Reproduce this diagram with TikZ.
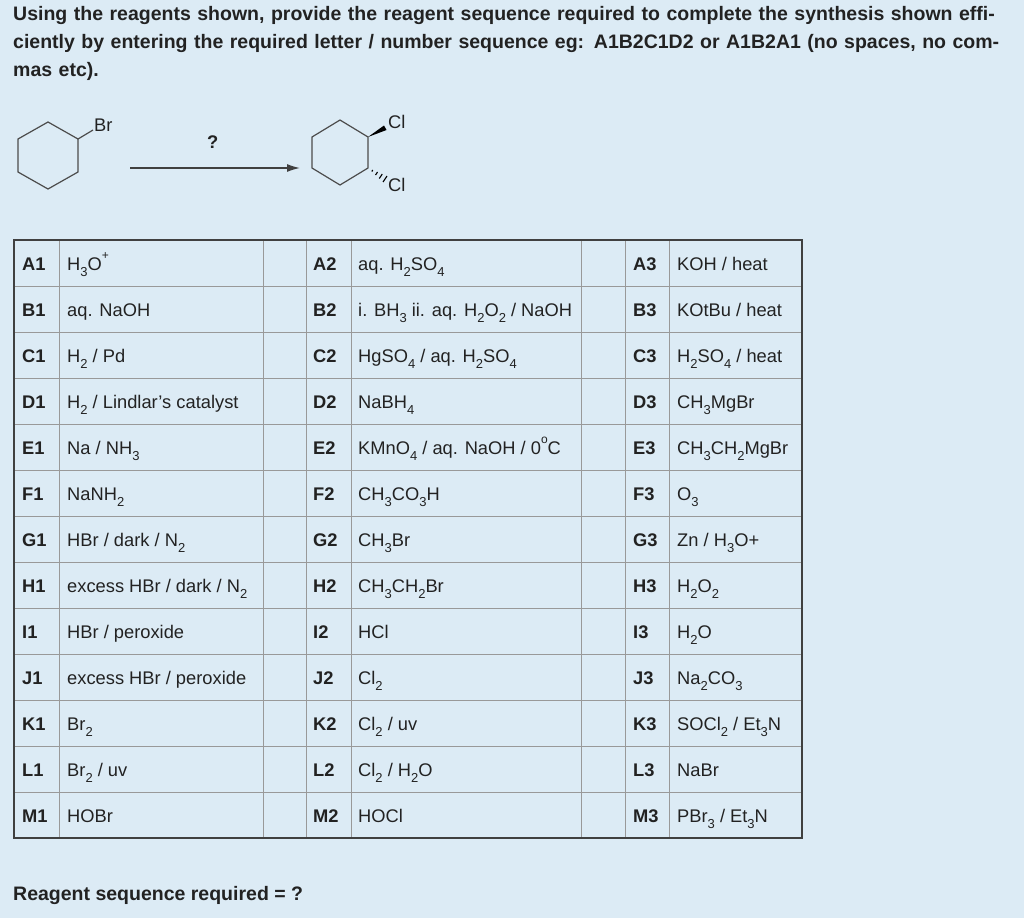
\documentclass[tikz,border=0pt]{standalone}
\usepackage{fontspec}
\setmainfont{Liberation Sans}
\usetikzlibrary{arrows.meta,calc}
\definecolor{bg}{HTML}{DCEBF5}
\definecolor{txt}{HTML}{222222}
\newcommand{\sbx}[1]{\raisebox{-0.38em}{\fontsize{13}{13}\selectfont #1}}
\newcommand{\spx}[1]{\raisebox{0.55em}{\fontsize{12}{12}\selectfont #1}}
\begin{document}
\begin{tikzpicture}[x=1pt,y=-1pt,
  cell/.style={anchor=base west,font=\fontsize{18.3}{20}\selectfont,text=txt,inner sep=0pt},
  lab/.style={anchor=base west,font=\fontsize{18.3}{20}\selectfont\bfseries,text=txt,inner sep=0pt},
  bond/.style={draw=black!70,line width=1.2pt},
  hdr/.style={anchor=west,font=\fontsize{19.5}{28}\selectfont\bfseries,text=txt,inner sep=0pt,align=left}]
\fill[bg] (0,0) rectangle (1024,918);
\useasboundingbox (0,0) rectangle (1024,918);
\node[hdr,anchor=north west,text width=995] (title) at (13,6) {Using the reagents shown, provide the reagent sequence required to complete the synthesis shown efficiently by entering the required letter / number sequence eg: A1B2C1D2 or A1B2A1 (no spaces, no commas etc).};
% molecules
\draw[bond] (48,122)--(78,139)--(78,172)--(48,189)--(18,172)--(18,139)--cycle;
\draw[bond] (78,139)--(93,130);
\node[cell] (br) at (94,131) {Br};
\node[lab] (q) at (207,148) {?};
\coordinate (a1) at (130,168); \coordinate (a2) at (300,168);
\draw[black!75,line width=1.3pt,-{Latex[length=13pt,width=8pt]}] (a1)--(a2);
\draw[bond] (340,120)--(368,137)--(368,168)--(340,185)--(312,168)--(312,137)--cycle;
\fill[black] (368,137)--(384,125.5)--(386.5,130)--cycle;
\node[cell] (cl1) at (388,128) {Cl};
\foreach \t in {0.25,0.5,0.75,1.0}
  \draw[black,line width=1.1pt] ($(368,168)!\t!(385,179)+(-2*\t,3*\t)$)--($(368,168)!\t!(385,179)+(2*\t,-3*\t)$);
\node[cell] (cl2) at (388,191) {Cl};
% table
\foreach \i in {1,...,12} \draw[gray!80,line width=1pt] (14,240+46*\i)--(802,240+46*\i);
\foreach \x in {59,263,306,351,581,625,669} \draw[gray!80,line width=1pt] (\x,240)--(\x,838);
\draw[black!75,line width=2pt] (14,240) rectangle (802,838);
\def\rows{%
{A}/{H\sbx{3}O\spx{+}}/{aq. H\sbx{2}SO\sbx{4}}/{KOH / heat},
{B}/{aq. NaOH}/{i. BH\sbx{3} ii. aq. H\sbx{2}O\sbx{2} / NaOH}/{KOtBu / heat},
{C}/{H\sbx{2} / Pd}/{HgSO\sbx{4} / aq. H\sbx{2}SO\sbx{4}}/{H\sbx{2}SO\sbx{4} / heat},
{D}/{H\sbx{2} / Lindlar's catalyst}/{NaBH\sbx{4}}/{CH\sbx{3}MgBr},
{E}/{Na / NH\sbx{3}}/{KMnO\sbx{4} / aq. NaOH / 0\spx{o}C}/{CH\sbx{3}CH\sbx{2}MgBr},
{F}/{NaNH\sbx{2}}/{CH\sbx{3}CO\sbx{3}H}/{O\sbx{3}},
{G}/{HBr / dark / N\sbx{2}}/{CH\sbx{3}Br}/{Zn / H\sbx{3}O+},
{H}/{excess HBr / dark / N\sbx{2}}/{CH\sbx{3}CH\sbx{2}Br}/{H\sbx{2}O\sbx{2}},
{I}/{HBr / peroxide}/{HCl}/{H\sbx{2}O},
{J}/{excess HBr / peroxide}/{Cl\sbx{2}}/{Na\sbx{2}CO\sbx{3}},
{K}/{Br\sbx{2}}/{Cl\sbx{2} / uv}/{SOCl\sbx{2} / Et\sbx{3}N},
{L}/{Br\sbx{2} / uv}/{Cl\sbx{2} / H\sbx{2}O}/{NaBr},
{M}/{HOBr}/{HOCl}/{PBr\sbx{3} / Et\sbx{3}N}}
\foreach \L/\a/\b/\c [count=\n from 0] in \rows {
  \pgfmathsetmacro{\yy}{270+46*\n}
  \node[lab] (l1\n) at (22,\yy) {\L1};
  \node[cell] (t1\n) at (67,\yy) {\a};
  \node[lab] (l2\n) at (313,\yy) {\L2};
  \node[cell] (t2\n) at (358,\yy) {\b};
  \node[lab] (l3\n) at (633,\yy) {\L3};
  \node[cell] (t3\n) at (677,\yy) {\c};
}
\node[lab,font=\fontsize{19.5}{22}\selectfont\bfseries] (ans) at (13,900) {Reagent sequence required = ?};
\end{tikzpicture}
\end{document}
